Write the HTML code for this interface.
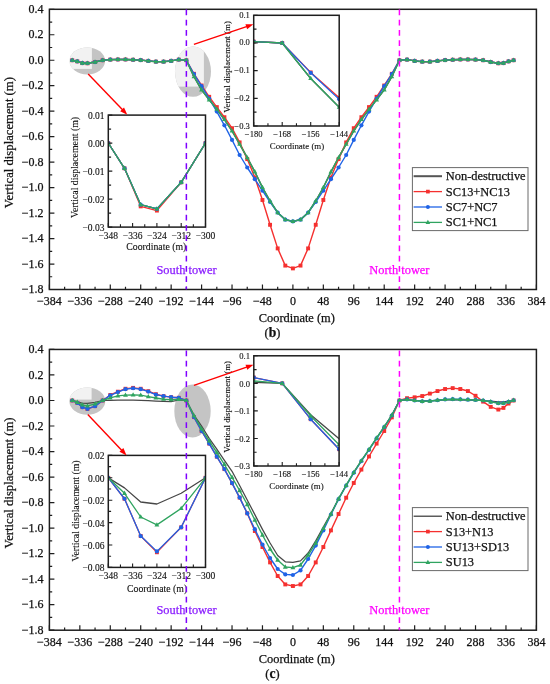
<!DOCTYPE html>
<html><head><meta charset="utf-8"><title>Vertical displacement</title>
<style>html,body{margin:0;padding:0;background:#fff;}svg{display:block;}</style></head>
<body>
<svg width="550" height="684" viewBox="0 0 550 684" font-family='"Liberation Serif", "Times New Roman", serif'>
<style>text{stroke-width:0.25px;paint-order:stroke;} text[font-size^="8"],text[font-size^="9"]{stroke-width:0.12px;}</style>
<rect width="550" height="684" fill="#fff"/>
<clipPath id="e1"><ellipse cx="87.3" cy="60.9" rx="17.7" ry="13.5"/></clipPath>
<ellipse cx="87.3" cy="60.9" rx="17.7" ry="13.5" fill="#c4c4c4"/>
<rect x="68.6" y="46.4" width="23.3" height="22.5" fill="#f2f2f2" clip-path="url(#e1)"/>
<clipPath id="e2"><ellipse cx="193" cy="71.6" rx="18" ry="25.2"/></clipPath>
<ellipse cx="193" cy="71.6" rx="18" ry="25.2" fill="#c4c4c4"/>
<rect x="174" y="45.4" width="29.9" height="41.2" fill="#f2f2f2" clip-path="url(#e2)"/>
<polyline points="72.23,60.25 77.3,61.39 82.37,63.05 87.45,63.24 95.06,62.03 102.67,60.25 110.28,59.61 117.88,59.48 125.49,59.48 133.1,59.74 140.71,60.12 148.32,60.88 155.93,61.65 163.54,61.65 171.15,60.88 178.76,59.61 186.37,60.25 193.98,76.6 201.59,89.8 209.2,99.8 216.81,109.2 224.42,119.5 232.03,130.9 239.63,144.1 247.24,157.7 254.85,171.8 262.46,187.5 270.07,201 277.68,212.7 285.29,219.6 292.9,221.4 300.51,219.6 308.12,212.7 315.73,201 323.34,187.5 330.95,171.8 338.56,157.7 346.17,144.1 353.77,130.9 361.38,119.5 368.99,109.2 376.6,99.8 384.21,89.8 391.82,76.6 399.43,60.25 407.04,59.61 414.65,60.88 422.26,61.65 429.87,61.65 437.48,60.88 445.09,60.12 452.7,59.74 460.31,59.48 467.92,59.48 475.52,59.61 483.13,60.25 490.74,62.03 498.35,63.24 503.43,63.05 508.5,61.39 513.57,60.25" fill="none" stroke="#474747" stroke-width="1.5" stroke-linejoin="round"/>
<polyline points="72.23,60.25 77.3,61.39 82.37,63.12 87.45,63.31 95.06,62.03 102.67,60.25 110.28,59.61 117.88,59.48 125.49,59.48 133.1,59.74 140.71,60.12 148.32,60.88 155.93,61.65 163.54,61.65 171.15,60.88 178.76,59.61 186.37,60.25 193.98,73.8 201.59,85.5 209.2,96.8 216.81,107.1 224.42,117.2 232.03,128.2 239.63,142.4 247.24,159.1 254.85,177.5 262.46,200 270.07,224.8 277.68,248.4 285.29,265.6 292.9,268.4 300.51,265.6 308.12,248.4 315.73,224.8 323.34,200 330.95,177.5 338.56,159.1 346.17,142.4 353.77,128.2 361.38,117.2 368.99,107.1 376.6,96.8 384.21,85.5 391.82,73.8 399.43,60.25 407.04,59.61 414.65,60.88 422.26,61.65 429.87,61.65 437.48,60.88 445.09,60.12 452.7,59.74 460.31,59.48 467.92,59.48 475.52,59.61 483.13,60.25 490.74,62.03 498.35,63.31 503.43,63.12 508.5,61.39 513.57,60.25" fill="none" stroke="#f5302f" stroke-width="1.4" stroke-linejoin="round"/>
<rect x="70.28" y="58.3" width="3.9" height="3.9" fill="#f5302f"/><rect x="75.35" y="59.44" width="3.9" height="3.9" fill="#f5302f"/><rect x="80.42" y="61.17" width="3.9" height="3.9" fill="#f5302f"/><rect x="85.5" y="61.36" width="3.9" height="3.9" fill="#f5302f"/><rect x="93.11" y="60.08" width="3.9" height="3.9" fill="#f5302f"/><rect x="100.72" y="58.3" width="3.9" height="3.9" fill="#f5302f"/><rect x="108.33" y="57.66" width="3.9" height="3.9" fill="#f5302f"/><rect x="115.93" y="57.53" width="3.9" height="3.9" fill="#f5302f"/><rect x="123.54" y="57.53" width="3.9" height="3.9" fill="#f5302f"/><rect x="131.15" y="57.79" width="3.9" height="3.9" fill="#f5302f"/><rect x="138.76" y="58.17" width="3.9" height="3.9" fill="#f5302f"/><rect x="146.37" y="58.93" width="3.9" height="3.9" fill="#f5302f"/><rect x="153.98" y="59.7" width="3.9" height="3.9" fill="#f5302f"/><rect x="161.59" y="59.7" width="3.9" height="3.9" fill="#f5302f"/><rect x="169.2" y="58.93" width="3.9" height="3.9" fill="#f5302f"/><rect x="176.81" y="57.66" width="3.9" height="3.9" fill="#f5302f"/><rect x="184.42" y="58.3" width="3.9" height="3.9" fill="#f5302f"/><rect x="192.03" y="71.85" width="3.9" height="3.9" fill="#f5302f"/><rect x="199.64" y="83.55" width="3.9" height="3.9" fill="#f5302f"/><rect x="207.25" y="94.85" width="3.9" height="3.9" fill="#f5302f"/><rect x="214.86" y="105.15" width="3.9" height="3.9" fill="#f5302f"/><rect x="222.47" y="115.25" width="3.9" height="3.9" fill="#f5302f"/><rect x="230.08" y="126.25" width="3.9" height="3.9" fill="#f5302f"/><rect x="237.68" y="140.45" width="3.9" height="3.9" fill="#f5302f"/><rect x="245.29" y="157.15" width="3.9" height="3.9" fill="#f5302f"/><rect x="252.9" y="175.55" width="3.9" height="3.9" fill="#f5302f"/><rect x="260.51" y="198.05" width="3.9" height="3.9" fill="#f5302f"/><rect x="268.12" y="222.85" width="3.9" height="3.9" fill="#f5302f"/><rect x="275.73" y="246.45" width="3.9" height="3.9" fill="#f5302f"/><rect x="283.34" y="263.65" width="3.9" height="3.9" fill="#f5302f"/><rect x="290.95" y="266.45" width="3.9" height="3.9" fill="#f5302f"/><rect x="298.56" y="263.65" width="3.9" height="3.9" fill="#f5302f"/><rect x="306.17" y="246.45" width="3.9" height="3.9" fill="#f5302f"/><rect x="313.78" y="222.85" width="3.9" height="3.9" fill="#f5302f"/><rect x="321.39" y="198.05" width="3.9" height="3.9" fill="#f5302f"/><rect x="329" y="175.55" width="3.9" height="3.9" fill="#f5302f"/><rect x="336.61" y="157.15" width="3.9" height="3.9" fill="#f5302f"/><rect x="344.22" y="140.45" width="3.9" height="3.9" fill="#f5302f"/><rect x="351.82" y="126.25" width="3.9" height="3.9" fill="#f5302f"/><rect x="359.43" y="115.25" width="3.9" height="3.9" fill="#f5302f"/><rect x="367.04" y="105.15" width="3.9" height="3.9" fill="#f5302f"/><rect x="374.65" y="94.85" width="3.9" height="3.9" fill="#f5302f"/><rect x="382.26" y="83.55" width="3.9" height="3.9" fill="#f5302f"/><rect x="389.87" y="71.85" width="3.9" height="3.9" fill="#f5302f"/><rect x="397.48" y="58.3" width="3.9" height="3.9" fill="#f5302f"/><rect x="405.09" y="57.66" width="3.9" height="3.9" fill="#f5302f"/><rect x="412.7" y="58.93" width="3.9" height="3.9" fill="#f5302f"/><rect x="420.31" y="59.7" width="3.9" height="3.9" fill="#f5302f"/><rect x="427.92" y="59.7" width="3.9" height="3.9" fill="#f5302f"/><rect x="435.53" y="58.93" width="3.9" height="3.9" fill="#f5302f"/><rect x="443.14" y="58.17" width="3.9" height="3.9" fill="#f5302f"/><rect x="450.75" y="57.79" width="3.9" height="3.9" fill="#f5302f"/><rect x="458.36" y="57.53" width="3.9" height="3.9" fill="#f5302f"/><rect x="465.97" y="57.53" width="3.9" height="3.9" fill="#f5302f"/><rect x="473.57" y="57.66" width="3.9" height="3.9" fill="#f5302f"/><rect x="481.18" y="58.3" width="3.9" height="3.9" fill="#f5302f"/><rect x="488.79" y="60.08" width="3.9" height="3.9" fill="#f5302f"/><rect x="496.4" y="61.36" width="3.9" height="3.9" fill="#f5302f"/><rect x="501.48" y="61.17" width="3.9" height="3.9" fill="#f5302f"/><rect x="506.55" y="59.44" width="3.9" height="3.9" fill="#f5302f"/><rect x="511.62" y="58.3" width="3.9" height="3.9" fill="#f5302f"/>
<polyline points="72.23,60.25 77.3,61.39 82.37,63.05 87.45,63.24 95.06,62.03 102.67,60.25 110.28,59.61 117.88,59.48 125.49,59.48 133.1,59.74 140.71,60.12 148.32,60.88 155.93,61.65 163.54,61.65 171.15,60.88 178.76,59.61 186.37,60.25 193.98,74 201.59,86.2 209.2,98.5 216.81,111.6 224.42,125.3 232.03,139.9 239.63,155 247.24,167.5 254.85,179.2 262.46,190.7 270.07,202 277.68,212.6 285.29,219.7 292.9,221.4 300.51,219.7 308.12,212.6 315.73,202 323.34,190.7 330.95,179.2 338.56,167.5 346.17,155 353.77,139.9 361.38,125.3 368.99,111.6 376.6,98.5 384.21,86.2 391.82,74 399.43,60.25 407.04,59.61 414.65,60.88 422.26,61.65 429.87,61.65 437.48,60.88 445.09,60.12 452.7,59.74 460.31,59.48 467.92,59.48 475.52,59.61 483.13,60.25 490.74,62.03 498.35,63.24 503.43,63.05 508.5,61.39 513.57,60.25" fill="none" stroke="#1f63e6" stroke-width="1.4" stroke-linejoin="round"/>
<circle cx="72.23" cy="60.25" r="2.1" fill="#1f63e6"/><circle cx="77.3" cy="61.39" r="2.1" fill="#1f63e6"/><circle cx="82.37" cy="63.05" r="2.1" fill="#1f63e6"/><circle cx="87.45" cy="63.24" r="2.1" fill="#1f63e6"/><circle cx="95.06" cy="62.03" r="2.1" fill="#1f63e6"/><circle cx="102.67" cy="60.25" r="2.1" fill="#1f63e6"/><circle cx="110.28" cy="59.61" r="2.1" fill="#1f63e6"/><circle cx="117.88" cy="59.48" r="2.1" fill="#1f63e6"/><circle cx="125.49" cy="59.48" r="2.1" fill="#1f63e6"/><circle cx="133.1" cy="59.74" r="2.1" fill="#1f63e6"/><circle cx="140.71" cy="60.12" r="2.1" fill="#1f63e6"/><circle cx="148.32" cy="60.88" r="2.1" fill="#1f63e6"/><circle cx="155.93" cy="61.65" r="2.1" fill="#1f63e6"/><circle cx="163.54" cy="61.65" r="2.1" fill="#1f63e6"/><circle cx="171.15" cy="60.88" r="2.1" fill="#1f63e6"/><circle cx="178.76" cy="59.61" r="2.1" fill="#1f63e6"/><circle cx="186.37" cy="60.25" r="2.1" fill="#1f63e6"/><circle cx="193.98" cy="74" r="2.1" fill="#1f63e6"/><circle cx="201.59" cy="86.2" r="2.1" fill="#1f63e6"/><circle cx="209.2" cy="98.5" r="2.1" fill="#1f63e6"/><circle cx="216.81" cy="111.6" r="2.1" fill="#1f63e6"/><circle cx="224.42" cy="125.3" r="2.1" fill="#1f63e6"/><circle cx="232.03" cy="139.9" r="2.1" fill="#1f63e6"/><circle cx="239.63" cy="155" r="2.1" fill="#1f63e6"/><circle cx="247.24" cy="167.5" r="2.1" fill="#1f63e6"/><circle cx="254.85" cy="179.2" r="2.1" fill="#1f63e6"/><circle cx="262.46" cy="190.7" r="2.1" fill="#1f63e6"/><circle cx="270.07" cy="202" r="2.1" fill="#1f63e6"/><circle cx="277.68" cy="212.6" r="2.1" fill="#1f63e6"/><circle cx="285.29" cy="219.7" r="2.1" fill="#1f63e6"/><circle cx="292.9" cy="221.4" r="2.1" fill="#1f63e6"/><circle cx="300.51" cy="219.7" r="2.1" fill="#1f63e6"/><circle cx="308.12" cy="212.6" r="2.1" fill="#1f63e6"/><circle cx="315.73" cy="202" r="2.1" fill="#1f63e6"/><circle cx="323.34" cy="190.7" r="2.1" fill="#1f63e6"/><circle cx="330.95" cy="179.2" r="2.1" fill="#1f63e6"/><circle cx="338.56" cy="167.5" r="2.1" fill="#1f63e6"/><circle cx="346.17" cy="155" r="2.1" fill="#1f63e6"/><circle cx="353.77" cy="139.9" r="2.1" fill="#1f63e6"/><circle cx="361.38" cy="125.3" r="2.1" fill="#1f63e6"/><circle cx="368.99" cy="111.6" r="2.1" fill="#1f63e6"/><circle cx="376.6" cy="98.5" r="2.1" fill="#1f63e6"/><circle cx="384.21" cy="86.2" r="2.1" fill="#1f63e6"/><circle cx="391.82" cy="74" r="2.1" fill="#1f63e6"/><circle cx="399.43" cy="60.25" r="2.1" fill="#1f63e6"/><circle cx="407.04" cy="59.61" r="2.1" fill="#1f63e6"/><circle cx="414.65" cy="60.88" r="2.1" fill="#1f63e6"/><circle cx="422.26" cy="61.65" r="2.1" fill="#1f63e6"/><circle cx="429.87" cy="61.65" r="2.1" fill="#1f63e6"/><circle cx="437.48" cy="60.88" r="2.1" fill="#1f63e6"/><circle cx="445.09" cy="60.12" r="2.1" fill="#1f63e6"/><circle cx="452.7" cy="59.74" r="2.1" fill="#1f63e6"/><circle cx="460.31" cy="59.48" r="2.1" fill="#1f63e6"/><circle cx="467.92" cy="59.48" r="2.1" fill="#1f63e6"/><circle cx="475.52" cy="59.61" r="2.1" fill="#1f63e6"/><circle cx="483.13" cy="60.25" r="2.1" fill="#1f63e6"/><circle cx="490.74" cy="62.03" r="2.1" fill="#1f63e6"/><circle cx="498.35" cy="63.24" r="2.1" fill="#1f63e6"/><circle cx="503.43" cy="63.05" r="2.1" fill="#1f63e6"/><circle cx="508.5" cy="61.39" r="2.1" fill="#1f63e6"/><circle cx="513.57" cy="60.25" r="2.1" fill="#1f63e6"/>
<polyline points="72.23,60.25 77.3,61.39 82.37,63.05 87.45,63.24 95.06,62.03 102.67,60.25 110.28,59.61 117.88,59.48 125.49,59.48 133.1,59.74 140.71,60.12 148.32,60.88 155.93,61.65 163.54,61.65 171.15,60.88 178.76,59.61 186.37,60.25 193.98,76.6 201.59,89.8 209.2,99.8 216.81,109.2 224.42,119.5 232.03,130.9 239.63,144.1 247.24,157.7 254.85,171.8 262.46,187.5 270.07,201 277.68,212.7 285.29,219.6 292.9,221.4 300.51,219.6 308.12,212.7 315.73,201 323.34,187.5 330.95,171.8 338.56,157.7 346.17,144.1 353.77,130.9 361.38,119.5 368.99,109.2 376.6,99.8 384.21,89.8 391.82,76.6 399.43,60.25 407.04,59.61 414.65,60.88 422.26,61.65 429.87,61.65 437.48,60.88 445.09,60.12 452.7,59.74 460.31,59.48 467.92,59.48 475.52,59.61 483.13,60.25 490.74,62.03 498.35,63.24 503.43,63.05 508.5,61.39 513.57,60.25" fill="none" stroke="#30a460" stroke-width="1.4" stroke-linejoin="round"/>
<path d="M72.23 57.55L74.66 61.87L69.8 61.87Z" fill="#30a460"/><path d="M77.3 58.69L79.73 63.01L74.87 63.01Z" fill="#30a460"/><path d="M82.37 60.35L84.8 64.67L79.94 64.67Z" fill="#30a460"/><path d="M87.45 60.54L89.88 64.86L85.02 64.86Z" fill="#30a460"/><path d="M95.06 59.33L97.49 63.65L92.63 63.65Z" fill="#30a460"/><path d="M102.67 57.55L105.1 61.87L100.24 61.87Z" fill="#30a460"/><path d="M110.28 56.91L112.71 61.23L107.84 61.23Z" fill="#30a460"/><path d="M117.88 56.78L120.31 61.1L115.45 61.1Z" fill="#30a460"/><path d="M125.49 56.78L127.92 61.1L123.06 61.1Z" fill="#30a460"/><path d="M133.1 57.04L135.53 61.36L130.67 61.36Z" fill="#30a460"/><path d="M140.71 57.42L143.14 61.74L138.28 61.74Z" fill="#30a460"/><path d="M148.32 58.18L150.75 62.5L145.89 62.5Z" fill="#30a460"/><path d="M155.93 58.95L158.36 63.27L153.5 63.27Z" fill="#30a460"/><path d="M163.54 58.95L165.97 63.27L161.11 63.27Z" fill="#30a460"/><path d="M171.15 58.18L173.58 62.5L168.72 62.5Z" fill="#30a460"/><path d="M178.76 56.91L181.19 61.23L176.33 61.23Z" fill="#30a460"/><path d="M186.37 57.55L188.8 61.87L183.94 61.87Z" fill="#30a460"/><path d="M193.98 73.9L196.41 78.22L191.55 78.22Z" fill="#30a460"/><path d="M201.59 87.1L204.02 91.42L199.16 91.42Z" fill="#30a460"/><path d="M209.2 97.1L211.63 101.42L206.77 101.42Z" fill="#30a460"/><path d="M216.81 106.5L219.24 110.82L214.38 110.82Z" fill="#30a460"/><path d="M224.42 116.8L226.85 121.12L221.99 121.12Z" fill="#30a460"/><path d="M232.03 128.2L234.46 132.52L229.59 132.52Z" fill="#30a460"/><path d="M239.63 141.4L242.06 145.72L237.2 145.72Z" fill="#30a460"/><path d="M247.24 155L249.67 159.32L244.81 159.32Z" fill="#30a460"/><path d="M254.85 169.1L257.28 173.42L252.42 173.42Z" fill="#30a460"/><path d="M262.46 184.8L264.89 189.12L260.03 189.12Z" fill="#30a460"/><path d="M270.07 198.3L272.5 202.62L267.64 202.62Z" fill="#30a460"/><path d="M277.68 210L280.11 214.32L275.25 214.32Z" fill="#30a460"/><path d="M285.29 216.9L287.72 221.22L282.86 221.22Z" fill="#30a460"/><path d="M292.9 218.7L295.33 223.02L290.47 223.02Z" fill="#30a460"/><path d="M300.51 216.9L302.94 221.22L298.08 221.22Z" fill="#30a460"/><path d="M308.12 210L310.55 214.32L305.69 214.32Z" fill="#30a460"/><path d="M315.73 198.3L318.16 202.62L313.3 202.62Z" fill="#30a460"/><path d="M323.34 184.8L325.77 189.12L320.91 189.12Z" fill="#30a460"/><path d="M330.95 169.1L333.38 173.42L328.52 173.42Z" fill="#30a460"/><path d="M338.56 155L340.99 159.32L336.13 159.32Z" fill="#30a460"/><path d="M346.17 141.4L348.6 145.72L343.74 145.72Z" fill="#30a460"/><path d="M353.77 128.2L356.2 132.52L351.34 132.52Z" fill="#30a460"/><path d="M361.38 116.8L363.81 121.12L358.95 121.12Z" fill="#30a460"/><path d="M368.99 106.5L371.42 110.82L366.56 110.82Z" fill="#30a460"/><path d="M376.6 97.1L379.03 101.42L374.17 101.42Z" fill="#30a460"/><path d="M384.21 87.1L386.64 91.42L381.78 91.42Z" fill="#30a460"/><path d="M391.82 73.9L394.25 78.22L389.39 78.22Z" fill="#30a460"/><path d="M399.43 57.55L401.86 61.87L397 61.87Z" fill="#30a460"/><path d="M407.04 56.91L409.47 61.23L404.61 61.23Z" fill="#30a460"/><path d="M414.65 58.18L417.08 62.5L412.22 62.5Z" fill="#30a460"/><path d="M422.26 58.95L424.69 63.27L419.83 63.27Z" fill="#30a460"/><path d="M429.87 58.95L432.3 63.27L427.44 63.27Z" fill="#30a460"/><path d="M437.48 58.18L439.91 62.5L435.05 62.5Z" fill="#30a460"/><path d="M445.09 57.42L447.52 61.74L442.66 61.74Z" fill="#30a460"/><path d="M452.7 57.04L455.13 61.36L450.27 61.36Z" fill="#30a460"/><path d="M460.31 56.78L462.74 61.1L457.88 61.1Z" fill="#30a460"/><path d="M467.92 56.78L470.35 61.1L465.49 61.1Z" fill="#30a460"/><path d="M475.52 56.91L477.95 61.23L473.09 61.23Z" fill="#30a460"/><path d="M483.13 57.55L485.56 61.87L480.7 61.87Z" fill="#30a460"/><path d="M490.74 59.33L493.17 63.65L488.31 63.65Z" fill="#30a460"/><path d="M498.35 60.54L500.78 64.86L495.92 64.86Z" fill="#30a460"/><path d="M503.43 60.35L505.86 64.67L501 64.67Z" fill="#30a460"/><path d="M508.5 58.69L510.93 63.01L506.07 63.01Z" fill="#30a460"/><path d="M513.57 57.55L516 61.87L511.14 61.87Z" fill="#30a460"/>
<path d="M49.4 289.5V284.5M64.62 289.5V286.7M79.84 289.5V284.5M95.06 289.5V286.7M110.28 289.5V284.5M125.49 289.5V286.7M140.71 289.5V284.5M155.93 289.5V286.7M171.15 289.5V284.5M186.37 289.5V286.7M201.59 289.5V284.5M216.81 289.5V286.7M232.03 289.5V284.5M247.24 289.5V286.7M262.46 289.5V284.5M277.68 289.5V286.7M292.9 289.5V284.5M308.12 289.5V286.7M323.34 289.5V284.5M338.56 289.5V286.7M353.77 289.5V284.5M368.99 289.5V286.7M384.21 289.5V284.5M399.43 289.5V286.7M414.65 289.5V284.5M429.87 289.5V286.7M445.09 289.5V284.5M460.31 289.5V286.7M475.52 289.5V284.5M490.74 289.5V286.7M505.96 289.5V284.5M521.18 289.5V286.7M536.4 289.5V284.5M49.4 289.5H54.4M49.4 276.76H52.2M49.4 264.03H54.4M49.4 251.29H52.2M49.4 238.55H54.4M49.4 225.82H52.2M49.4 213.08H54.4M49.4 200.35H52.2M49.4 187.61H54.4M49.4 174.87H52.2M49.4 162.14H54.4M49.4 149.4H52.2M49.4 136.66H54.4M49.4 123.93H52.2M49.4 111.19H54.4M49.4 98.45H52.2M49.4 85.72H54.4M49.4 72.98H52.2M49.4 60.25H54.4M49.4 47.51H52.2M49.4 34.77H54.4M49.4 22.04H52.2M49.4 9.3H54.4" stroke="#1e1e1e" stroke-width="1.2" fill="none"/>
<rect x="49.4" y="9.3" width="487" height="280.2" fill="none" stroke="#1e1e1e" stroke-width="1.5"/>
<text x="49.4" y="305" font-size="12" text-anchor="middle" fill="#111" stroke="#111" >&#8722;384</text>
<text x="79.84" y="305" font-size="12" text-anchor="middle" fill="#111" stroke="#111" >&#8722;336</text>
<text x="110.28" y="305" font-size="12" text-anchor="middle" fill="#111" stroke="#111" >&#8722;288</text>
<text x="140.71" y="305" font-size="12" text-anchor="middle" fill="#111" stroke="#111" >&#8722;240</text>
<text x="171.15" y="305" font-size="12" text-anchor="middle" fill="#111" stroke="#111" >&#8722;192</text>
<text x="201.59" y="305" font-size="12" text-anchor="middle" fill="#111" stroke="#111" >&#8722;144</text>
<text x="232.03" y="305" font-size="12" text-anchor="middle" fill="#111" stroke="#111" >&#8722;96</text>
<text x="262.46" y="305" font-size="12" text-anchor="middle" fill="#111" stroke="#111" >&#8722;48</text>
<text x="292.9" y="305" font-size="12" text-anchor="middle" fill="#111" stroke="#111" >0</text>
<text x="323.34" y="305" font-size="12" text-anchor="middle" fill="#111" stroke="#111" >48</text>
<text x="353.77" y="305" font-size="12" text-anchor="middle" fill="#111" stroke="#111" >96</text>
<text x="384.21" y="305" font-size="12" text-anchor="middle" fill="#111" stroke="#111" >144</text>
<text x="414.65" y="305" font-size="12" text-anchor="middle" fill="#111" stroke="#111" >192</text>
<text x="445.09" y="305" font-size="12" text-anchor="middle" fill="#111" stroke="#111" >240</text>
<text x="475.52" y="305" font-size="12" text-anchor="middle" fill="#111" stroke="#111" >288</text>
<text x="505.96" y="305" font-size="12" text-anchor="middle" fill="#111" stroke="#111" >336</text>
<text x="536.4" y="305" font-size="12" text-anchor="middle" fill="#111" stroke="#111" >384</text>
<text x="43.6" y="293.2" font-size="12" text-anchor="end" fill="#111" stroke="#111" >&#8722;1.8</text>
<text x="43.6" y="267.73" font-size="12" text-anchor="end" fill="#111" stroke="#111" >&#8722;1.6</text>
<text x="43.6" y="242.25" font-size="12" text-anchor="end" fill="#111" stroke="#111" >&#8722;1.4</text>
<text x="43.6" y="216.78" font-size="12" text-anchor="end" fill="#111" stroke="#111" >&#8722;1.2</text>
<text x="43.6" y="191.31" font-size="12" text-anchor="end" fill="#111" stroke="#111" >&#8722;1.0</text>
<text x="43.6" y="165.84" font-size="12" text-anchor="end" fill="#111" stroke="#111" >&#8722;0.8</text>
<text x="43.6" y="140.36" font-size="12" text-anchor="end" fill="#111" stroke="#111" >&#8722;0.6</text>
<text x="43.6" y="114.89" font-size="12" text-anchor="end" fill="#111" stroke="#111" >&#8722;0.4</text>
<text x="43.6" y="89.42" font-size="12" text-anchor="end" fill="#111" stroke="#111" >&#8722;0.2</text>
<text x="43.6" y="63.95" font-size="12" text-anchor="end" fill="#111" stroke="#111" >0.0</text>
<text x="43.6" y="38.47" font-size="12" text-anchor="end" fill="#111" stroke="#111" >0.2</text>
<text x="43.6" y="13" font-size="12" text-anchor="end" fill="#111" stroke="#111" >0.4</text>
<text x="296.8" y="322" font-size="12.4" text-anchor="middle" fill="#111" stroke="#111" >Coordinate (m)</text>
<text x="272.5" y="337" font-size="12.4" text-anchor="middle" fill="#111" stroke="#111">(<tspan font-weight="bold" font-size="13.6">b</tspan>)</text>
<text transform="translate(12.7 142.6) rotate(-90)" font-size="12.7" text-anchor="middle" fill="#111" stroke="#111">Vertical displacement (m)</text>
<rect x="108.3" y="115.1" width="97.2" height="112" fill="#fff"/>
<clipPath id="cbl"><rect x="108.3" y="115.1" width="97.2" height="112"/></clipPath>
<g clip-path="url(#cbl)">
<polyline points="108.3,143.1 124.5,168.3 140.7,204.7 156.9,208.9 181.2,182.3 205.5,143.1 229.8,129.1" fill="none" stroke="#474747" stroke-width="1.3" stroke-linejoin="round"/>
<polyline points="108.3,143.1 124.5,168.3 140.7,206.38 156.9,210.58 181.2,182.3 205.5,143.1 229.8,129.1" fill="none" stroke="#f5302f" stroke-width="1.3" stroke-linejoin="round"/>
<rect x="106.35" y="141.15" width="3.9" height="3.9" fill="#f5302f"/><rect x="122.55" y="166.35" width="3.9" height="3.9" fill="#f5302f"/><rect x="138.75" y="204.43" width="3.9" height="3.9" fill="#f5302f"/><rect x="154.95" y="208.63" width="3.9" height="3.9" fill="#f5302f"/><rect x="179.25" y="180.35" width="3.9" height="3.9" fill="#f5302f"/><rect x="203.55" y="141.15" width="3.9" height="3.9" fill="#f5302f"/><rect x="227.85" y="127.15" width="3.9" height="3.9" fill="#f5302f"/>
<polyline points="108.3,143.1 124.5,168.3 140.7,204.7 156.9,208.9 181.2,182.3 205.5,143.1 229.8,129.1" fill="none" stroke="#1f63e6" stroke-width="1.3" stroke-linejoin="round"/>
<circle cx="108.3" cy="143.1" r="2.1" fill="#1f63e6"/><circle cx="124.5" cy="168.3" r="2.1" fill="#1f63e6"/><circle cx="140.7" cy="204.7" r="2.1" fill="#1f63e6"/><circle cx="156.9" cy="208.9" r="2.1" fill="#1f63e6"/><circle cx="181.2" cy="182.3" r="2.1" fill="#1f63e6"/><circle cx="205.5" cy="143.1" r="2.1" fill="#1f63e6"/><circle cx="229.8" cy="129.1" r="2.1" fill="#1f63e6"/>
<polyline points="108.3,143.1 124.5,168.3 140.7,204.7 156.9,208.9 181.2,182.3 205.5,143.1 229.8,129.1" fill="none" stroke="#30a460" stroke-width="1.3" stroke-linejoin="round"/>
<path d="M108.3 140.4L110.73 144.72L105.87 144.72Z" fill="#30a460"/><path d="M124.5 165.6L126.93 169.92L122.07 169.92Z" fill="#30a460"/><path d="M140.7 202L143.13 206.32L138.27 206.32Z" fill="#30a460"/><path d="M156.9 206.2L159.33 210.52L154.47 210.52Z" fill="#30a460"/><path d="M181.2 179.6L183.63 183.92L178.77 183.92Z" fill="#30a460"/><path d="M205.5 140.4L207.93 144.72L203.07 144.72Z" fill="#30a460"/><path d="M229.8 126.4L232.23 130.72L227.37 130.72Z" fill="#30a460"/>
</g>
<path d="M108.3 227.1V223.1M120.45 227.1V224.3M132.6 227.1V223.1M144.75 227.1V224.3M156.9 227.1V223.1M169.05 227.1V224.3M181.2 227.1V223.1M193.35 227.1V224.3M205.5 227.1V223.1M108.3 227.1H112.3M108.3 213.1H111.1M108.3 199.1H112.3M108.3 185.1H111.1M108.3 171.1H112.3M108.3 157.1H111.1M108.3 143.1H112.3M108.3 129.1H111.1M108.3 115.1H112.3" stroke="#1e1e1e" stroke-width="1.1" fill="none"/>
<rect x="108.3" y="115.1" width="97.2" height="112" fill="none" stroke="#1e1e1e" stroke-width="1.5"/>
<text x="108.3" y="238.9" font-size="9.5" text-anchor="middle" fill="#111" stroke="#111" >&#8722;348</text>
<text x="132.6" y="238.9" font-size="9.5" text-anchor="middle" fill="#111" stroke="#111" >&#8722;336</text>
<text x="156.9" y="238.9" font-size="9.5" text-anchor="middle" fill="#111" stroke="#111" >&#8722;324</text>
<text x="181.2" y="238.9" font-size="9.5" text-anchor="middle" fill="#111" stroke="#111" >&#8722;312</text>
<text x="205.5" y="238.9" font-size="9.5" text-anchor="middle" fill="#111" stroke="#111" >&#8722;300</text>
<text x="104.5" y="231.03" font-size="9.5" text-anchor="end" fill="#111" stroke="#111" >&#8722;0.03</text>
<text x="104.5" y="203.03" font-size="9.5" text-anchor="end" fill="#111" stroke="#111" >&#8722;0.02</text>
<text x="104.5" y="175.03" font-size="9.5" text-anchor="end" fill="#111" stroke="#111" >&#8722;0.01</text>
<text x="104.5" y="147.03" font-size="9.5" text-anchor="end" fill="#111" stroke="#111" >0.00</text>
<text x="104.5" y="119.02" font-size="9.5" text-anchor="end" fill="#111" stroke="#111" >0.01</text>
<text x="156.3" y="250.1" font-size="9.8" text-anchor="middle" fill="#111" stroke="#111" >Coordinate (m)</text>
<text transform="translate(78.2 167.5) rotate(-90)" font-size="9.8" text-anchor="middle" fill="#111" stroke="#111">Vertical displacement (m)</text>
<rect x="253.7" y="15.3" width="85.5" height="110.7" fill="#fff"/>
<clipPath id="cbr"><rect x="253.7" y="15.3" width="85.5" height="110.7"/></clipPath>
<g clip-path="url(#cbr)">
<polyline points="225.2,44.36 253.7,41.59 282.2,42.98 310.7,78.5 339.2,107.19 367.7,128.92" fill="none" stroke="#474747" stroke-width="1.3" stroke-linejoin="round"/>
<polyline points="225.2,44.36 253.7,41.59 282.2,42.98 310.7,72.42 339.2,97.84 367.7,122.4" fill="none" stroke="#f5302f" stroke-width="1.3" stroke-linejoin="round"/>
<rect x="223.25" y="42.41" width="3.9" height="3.9" fill="#f5302f"/><rect x="251.75" y="39.64" width="3.9" height="3.9" fill="#f5302f"/><rect x="280.25" y="41.03" width="3.9" height="3.9" fill="#f5302f"/><rect x="308.75" y="70.47" width="3.9" height="3.9" fill="#f5302f"/><rect x="337.25" y="95.89" width="3.9" height="3.9" fill="#f5302f"/><rect x="365.75" y="120.45" width="3.9" height="3.9" fill="#f5302f"/>
<polyline points="225.2,44.36 253.7,41.59 282.2,42.98 310.7,72.85 339.2,99.36 367.7,126.09" fill="none" stroke="#1f63e6" stroke-width="1.3" stroke-linejoin="round"/>
<circle cx="225.2" cy="44.36" r="2.1" fill="#1f63e6"/><circle cx="253.7" cy="41.59" r="2.1" fill="#1f63e6"/><circle cx="282.2" cy="42.98" r="2.1" fill="#1f63e6"/><circle cx="310.7" cy="72.85" r="2.1" fill="#1f63e6"/><circle cx="339.2" cy="99.36" r="2.1" fill="#1f63e6"/><circle cx="367.7" cy="126.09" r="2.1" fill="#1f63e6"/>
<polyline points="225.2,44.36 253.7,41.59 282.2,42.98 310.7,78.5 339.2,107.19 367.7,128.92" fill="none" stroke="#30a460" stroke-width="1.3" stroke-linejoin="round"/>
<path d="M225.2 41.66L227.63 45.98L222.77 45.98Z" fill="#30a460"/><path d="M253.7 38.89L256.13 43.21L251.27 43.21Z" fill="#30a460"/><path d="M282.2 40.28L284.63 44.6L279.77 44.6Z" fill="#30a460"/><path d="M310.7 75.8L313.13 80.12L308.27 80.12Z" fill="#30a460"/><path d="M339.2 104.49L341.63 108.81L336.77 108.81Z" fill="#30a460"/><path d="M367.7 126.22L370.13 130.54L365.27 130.54Z" fill="#30a460"/>
</g>
<path d="M253.7 126V122M267.95 126V123.2M282.2 126V122M296.45 126V123.2M310.7 126V122M324.95 126V123.2M339.2 126V122M253.7 126H257.7M253.7 112.16H256.5M253.7 98.33H257.7M253.7 84.49H256.5M253.7 70.65H257.7M253.7 56.81H256.5M253.7 42.97H257.7M253.7 29.14H256.5M253.7 15.3H257.7" stroke="#1e1e1e" stroke-width="1.1" fill="none"/>
<rect x="253.7" y="15.3" width="85.5" height="110.7" fill="none" stroke="#1e1e1e" stroke-width="1.5"/>
<text x="253.7" y="136.8" font-size="8.6" text-anchor="middle" fill="#111" stroke="#111" >&#8722;180</text>
<text x="282.2" y="136.8" font-size="8.6" text-anchor="middle" fill="#111" stroke="#111" >&#8722;168</text>
<text x="310.7" y="136.8" font-size="8.6" text-anchor="middle" fill="#111" stroke="#111" >&#8722;156</text>
<text x="339.2" y="136.8" font-size="8.6" text-anchor="middle" fill="#111" stroke="#111" >&#8722;144</text>
<text x="249.9" y="128.51" font-size="8.6" text-anchor="end" fill="#111" stroke="#111" >&#8722;0.3</text>
<text x="249.9" y="100.84" font-size="8.6" text-anchor="end" fill="#111" stroke="#111" >&#8722;0.2</text>
<text x="249.9" y="73.16" font-size="8.6" text-anchor="end" fill="#111" stroke="#111" >&#8722;0.1</text>
<text x="249.9" y="45.48" font-size="8.6" text-anchor="end" fill="#111" stroke="#111" >0.0</text>
<text x="249.9" y="17.81" font-size="8.6" text-anchor="end" fill="#111" stroke="#111" >0.1</text>
<text x="297" y="148.6" font-size="8.9" text-anchor="middle" fill="#111" stroke="#111" >Coordinate (m)</text>
<text transform="translate(229.8 67) rotate(-90)" font-size="8.9" text-anchor="middle" fill="#111" stroke="#111">Vertical displacement (m)</text>
<line x1="88.2" y1="74.1" x2="122.79" y2="110.02" stroke="#ff0000" stroke-width="1.4"/>
<path d="M127.3 114.7L120.15 111.17L124.04 107.42Z" fill="#ff0000"/>
<line x1="193.9" y1="44.3" x2="247.24" y2="26.37" stroke="#ff0000" stroke-width="1.4"/>
<path d="M253.4 24.3L247.15 29.25L245.43 24.13Z" fill="#ff0000"/>
<line x1="186.37" y1="9.44" x2="186.37" y2="289.5" stroke="#7f00ff" stroke-width="1.5" stroke-dasharray="5.8 4.46"/>
<line x1="399.43" y1="9.44" x2="399.43" y2="289.5" stroke="#ff00ff" stroke-width="1.5" stroke-dasharray="5.8 4.46"/>
<text x="186.6" y="273.5" font-size="12.4" text-anchor="middle" fill="#8a1cff" stroke="#8a1cff" >South tower</text>
<text x="399.4" y="273.5" font-size="12.4" text-anchor="middle" fill="#ff00ff" stroke="#ff00ff" >North tower</text>
<rect x="412.4" y="167.6" width="115.6" height="63" fill="#fff" stroke="#6a6a6a" stroke-width="1"/>
<line x1="413.6" y1="176.2" x2="442" y2="176.2" stroke="#555555" stroke-width="2.0"/>
<text x="445.8" y="180.1" font-size="12.4" text-anchor="start" fill="#111" stroke="#111" >Non-destructive</text>
<line x1="413.6" y1="191.6" x2="442" y2="191.6" stroke="#f5302f" stroke-width="1.3"/>
<rect x="426.05" y="189.75" width="3.7" height="3.7" fill="#f5302f"/>
<text x="445.8" y="195.5" font-size="12.4" text-anchor="start" fill="#111" stroke="#111" >SC13+NC13</text>
<line x1="413.6" y1="207" x2="442" y2="207" stroke="#1f63e6" stroke-width="1.3"/>
<circle cx="427.9" cy="207" r="1.99" fill="#1f63e6"/>
<text x="445.8" y="210.9" font-size="12.4" text-anchor="start" fill="#111" stroke="#111" >SC7+NC7</text>
<line x1="413.6" y1="222.4" x2="442" y2="222.4" stroke="#30a460" stroke-width="1.3"/>
<path d="M427.9 219.83L430.21 223.94L425.59 223.94Z" fill="#30a460"/>
<text x="445.8" y="226.3" font-size="12.4" text-anchor="start" fill="#111" stroke="#111" >SC1+NC1</text>
<clipPath id="e3"><ellipse cx="87.3" cy="401.1" rx="18" ry="13.6"/></clipPath>
<ellipse cx="87.3" cy="401.1" rx="18" ry="13.6" fill="#c4c4c4"/>
<rect x="68.3" y="386.5" width="23.3" height="13.1" fill="#f2f2f2" clip-path="url(#e3)"/>
<clipPath id="e4"><ellipse cx="192.5" cy="411.1" rx="18.2" ry="26.5"/></clipPath>
<ellipse cx="192.5" cy="411.1" rx="18.2" ry="26.5" fill="#c4c4c4"/>
<polyline points="72.23,400.5 77.3,401.64 82.37,403.25 87.45,403.48 95.06,402.26 102.67,400.5 110.28,400.37 117.88,400.24 125.49,400.24 133.1,400.24 140.71,400.37 148.32,400.62 155.93,401.01 163.54,401.39 171.15,401.64 178.76,399.99 186.37,400.5 193.98,415 201.59,426.2 209.2,438.4 216.81,449.1 224.42,460.3 232.03,471.3 239.63,485.5 247.24,500.01 254.85,514.61 262.46,529.41 270.07,543.01 277.68,555.51 285.29,561.81 292.9,562.31 300.51,560.91 308.12,553.01 315.73,540.91 323.34,527.11 330.95,513.41 338.56,498.81 346.17,485.3 353.77,472.4 361.38,460.7 368.99,449.5 376.6,438 384.21,426.8 391.82,415.1 399.43,400.5 407.04,399.97 414.65,400.5 422.26,400.89 429.87,400.76 437.48,400.36 445.09,399.97 452.7,399.84 460.31,399.97 467.92,400.1 475.52,400.23 483.13,400.5 490.74,401.15 498.35,401.81 503.43,401.81 508.5,401.15 513.57,400.36" fill="none" stroke="#474747" stroke-width="1.25" stroke-linejoin="round"/>
<polyline points="72.23,400.5 77.3,402.88 82.37,407.13 87.45,408.98 95.06,406.14 102.67,400.5 110.28,395.01 117.88,391.69 125.49,388.75 133.1,387.86 140.71,388.75 148.32,391.18 155.93,394.24 163.54,396.16 171.15,397.18 178.76,397.82 186.37,400.5 193.98,417.1 201.59,431 209.2,443.6 216.81,456.7 224.42,469.1 232.03,483.1 239.63,497.61 247.24,513.31 254.85,531.01 262.46,547.01 270.07,562.41 277.68,576.01 285.29,584.42 292.9,586.02 300.51,584.42 308.12,576.01 315.73,562.41 323.34,547.01 330.95,530.41 338.56,514.01 346.17,497.71 353.77,483 361.38,469.6 368.99,456.5 376.6,443.6 384.21,431 391.82,417.4 399.43,400.5 407.04,398.2 414.65,397.31 422.26,396.03 429.87,393.6 437.48,391.05 445.09,389.01 452.7,388.12 460.31,389.01 467.92,391.05 475.52,395.77 483.13,401.64 490.74,406.88 498.35,409.56 503.43,407.9 508.5,403.56 513.57,400.5" fill="none" stroke="#f5302f" stroke-width="1.4" stroke-linejoin="round"/>
<rect x="70.28" y="398.55" width="3.9" height="3.9" fill="#f5302f"/><rect x="75.35" y="400.93" width="3.9" height="3.9" fill="#f5302f"/><rect x="80.42" y="405.18" width="3.9" height="3.9" fill="#f5302f"/><rect x="85.5" y="407.03" width="3.9" height="3.9" fill="#f5302f"/><rect x="93.11" y="404.19" width="3.9" height="3.9" fill="#f5302f"/><rect x="100.72" y="398.55" width="3.9" height="3.9" fill="#f5302f"/><rect x="108.33" y="393.06" width="3.9" height="3.9" fill="#f5302f"/><rect x="115.93" y="389.74" width="3.9" height="3.9" fill="#f5302f"/><rect x="123.54" y="386.81" width="3.9" height="3.9" fill="#f5302f"/><rect x="131.15" y="385.91" width="3.9" height="3.9" fill="#f5302f"/><rect x="138.76" y="386.81" width="3.9" height="3.9" fill="#f5302f"/><rect x="146.37" y="389.23" width="3.9" height="3.9" fill="#f5302f"/><rect x="153.98" y="392.29" width="3.9" height="3.9" fill="#f5302f"/><rect x="161.59" y="394.21" width="3.9" height="3.9" fill="#f5302f"/><rect x="169.2" y="395.23" width="3.9" height="3.9" fill="#f5302f"/><rect x="176.81" y="395.87" width="3.9" height="3.9" fill="#f5302f"/><rect x="184.42" y="398.55" width="3.9" height="3.9" fill="#f5302f"/><rect x="192.03" y="415.15" width="3.9" height="3.9" fill="#f5302f"/><rect x="199.64" y="429.05" width="3.9" height="3.9" fill="#f5302f"/><rect x="207.25" y="441.65" width="3.9" height="3.9" fill="#f5302f"/><rect x="214.86" y="454.75" width="3.9" height="3.9" fill="#f5302f"/><rect x="222.47" y="467.15" width="3.9" height="3.9" fill="#f5302f"/><rect x="230.08" y="481.15" width="3.9" height="3.9" fill="#f5302f"/><rect x="237.68" y="495.66" width="3.9" height="3.9" fill="#f5302f"/><rect x="245.29" y="511.36" width="3.9" height="3.9" fill="#f5302f"/><rect x="252.9" y="529.06" width="3.9" height="3.9" fill="#f5302f"/><rect x="260.51" y="545.06" width="3.9" height="3.9" fill="#f5302f"/><rect x="268.12" y="560.46" width="3.9" height="3.9" fill="#f5302f"/><rect x="275.73" y="574.06" width="3.9" height="3.9" fill="#f5302f"/><rect x="283.34" y="582.47" width="3.9" height="3.9" fill="#f5302f"/><rect x="290.95" y="584.07" width="3.9" height="3.9" fill="#f5302f"/><rect x="298.56" y="582.47" width="3.9" height="3.9" fill="#f5302f"/><rect x="306.17" y="574.06" width="3.9" height="3.9" fill="#f5302f"/><rect x="313.78" y="560.46" width="3.9" height="3.9" fill="#f5302f"/><rect x="321.39" y="545.06" width="3.9" height="3.9" fill="#f5302f"/><rect x="329" y="528.46" width="3.9" height="3.9" fill="#f5302f"/><rect x="336.61" y="512.06" width="3.9" height="3.9" fill="#f5302f"/><rect x="344.22" y="495.76" width="3.9" height="3.9" fill="#f5302f"/><rect x="351.82" y="481.05" width="3.9" height="3.9" fill="#f5302f"/><rect x="359.43" y="467.65" width="3.9" height="3.9" fill="#f5302f"/><rect x="367.04" y="454.55" width="3.9" height="3.9" fill="#f5302f"/><rect x="374.65" y="441.65" width="3.9" height="3.9" fill="#f5302f"/><rect x="382.26" y="429.05" width="3.9" height="3.9" fill="#f5302f"/><rect x="389.87" y="415.45" width="3.9" height="3.9" fill="#f5302f"/><rect x="397.48" y="398.55" width="3.9" height="3.9" fill="#f5302f"/><rect x="405.09" y="396.25" width="3.9" height="3.9" fill="#f5302f"/><rect x="412.7" y="395.36" width="3.9" height="3.9" fill="#f5302f"/><rect x="420.31" y="394.08" width="3.9" height="3.9" fill="#f5302f"/><rect x="427.92" y="391.65" width="3.9" height="3.9" fill="#f5302f"/><rect x="435.53" y="389.1" width="3.9" height="3.9" fill="#f5302f"/><rect x="443.14" y="387.06" width="3.9" height="3.9" fill="#f5302f"/><rect x="450.75" y="386.17" width="3.9" height="3.9" fill="#f5302f"/><rect x="458.36" y="387.06" width="3.9" height="3.9" fill="#f5302f"/><rect x="465.97" y="389.1" width="3.9" height="3.9" fill="#f5302f"/><rect x="473.57" y="393.82" width="3.9" height="3.9" fill="#f5302f"/><rect x="481.18" y="399.69" width="3.9" height="3.9" fill="#f5302f"/><rect x="488.79" y="404.93" width="3.9" height="3.9" fill="#f5302f"/><rect x="496.4" y="407.61" width="3.9" height="3.9" fill="#f5302f"/><rect x="501.48" y="405.95" width="3.9" height="3.9" fill="#f5302f"/><rect x="506.55" y="401.61" width="3.9" height="3.9" fill="#f5302f"/><rect x="511.62" y="398.55" width="3.9" height="3.9" fill="#f5302f"/>
<polyline points="72.23,400.5 77.3,402.88 82.37,407.13 87.45,408.88 95.06,406.14 102.67,400.5 110.28,395.39 117.88,392.07 125.49,389.14 133.1,388.24 140.71,389.14 148.32,391.56 155.93,394.63 163.54,396.16 171.15,397.18 178.76,397.82 186.37,400.5 193.98,417.1 201.59,431 209.2,443.6 216.81,456.7 224.42,469.1 232.03,483.1 239.63,497.61 247.24,513.31 254.85,529.21 262.46,544.61 270.07,558.01 277.68,569.01 285.29,574.41 292.9,575.01 300.51,570.41 308.12,559.01 315.73,545.61 323.34,530.41 330.95,514.51 338.56,499.21 346.17,485.7 353.77,472.8 361.38,461.1 368.99,449.9 376.6,438.4 384.21,427.2 391.82,415.5 399.43,400.5 407.04,399.44 414.65,400.5 422.26,401.29 429.87,401.02 437.48,400.23 445.09,399.44 452.7,399.18 460.31,399.44 467.92,399.7 475.52,399.97 483.13,400.5 490.74,401.81 498.35,403.13 503.43,403.13 508.5,401.81 513.57,400.23" fill="none" stroke="#1f63e6" stroke-width="1.4" stroke-linejoin="round"/>
<circle cx="72.23" cy="400.5" r="2.1" fill="#1f63e6"/><circle cx="77.3" cy="402.88" r="2.1" fill="#1f63e6"/><circle cx="82.37" cy="407.13" r="2.1" fill="#1f63e6"/><circle cx="87.45" cy="408.88" r="2.1" fill="#1f63e6"/><circle cx="95.06" cy="406.14" r="2.1" fill="#1f63e6"/><circle cx="102.67" cy="400.5" r="2.1" fill="#1f63e6"/><circle cx="110.28" cy="395.39" r="2.1" fill="#1f63e6"/><circle cx="117.88" cy="392.07" r="2.1" fill="#1f63e6"/><circle cx="125.49" cy="389.14" r="2.1" fill="#1f63e6"/><circle cx="133.1" cy="388.24" r="2.1" fill="#1f63e6"/><circle cx="140.71" cy="389.14" r="2.1" fill="#1f63e6"/><circle cx="148.32" cy="391.56" r="2.1" fill="#1f63e6"/><circle cx="155.93" cy="394.63" r="2.1" fill="#1f63e6"/><circle cx="163.54" cy="396.16" r="2.1" fill="#1f63e6"/><circle cx="171.15" cy="397.18" r="2.1" fill="#1f63e6"/><circle cx="178.76" cy="397.82" r="2.1" fill="#1f63e6"/><circle cx="186.37" cy="400.5" r="2.1" fill="#1f63e6"/><circle cx="193.98" cy="417.1" r="2.1" fill="#1f63e6"/><circle cx="201.59" cy="431" r="2.1" fill="#1f63e6"/><circle cx="209.2" cy="443.6" r="2.1" fill="#1f63e6"/><circle cx="216.81" cy="456.7" r="2.1" fill="#1f63e6"/><circle cx="224.42" cy="469.1" r="2.1" fill="#1f63e6"/><circle cx="232.03" cy="483.1" r="2.1" fill="#1f63e6"/><circle cx="239.63" cy="497.61" r="2.1" fill="#1f63e6"/><circle cx="247.24" cy="513.31" r="2.1" fill="#1f63e6"/><circle cx="254.85" cy="529.21" r="2.1" fill="#1f63e6"/><circle cx="262.46" cy="544.61" r="2.1" fill="#1f63e6"/><circle cx="270.07" cy="558.01" r="2.1" fill="#1f63e6"/><circle cx="277.68" cy="569.01" r="2.1" fill="#1f63e6"/><circle cx="285.29" cy="574.41" r="2.1" fill="#1f63e6"/><circle cx="292.9" cy="575.01" r="2.1" fill="#1f63e6"/><circle cx="300.51" cy="570.41" r="2.1" fill="#1f63e6"/><circle cx="308.12" cy="559.01" r="2.1" fill="#1f63e6"/><circle cx="315.73" cy="545.61" r="2.1" fill="#1f63e6"/><circle cx="323.34" cy="530.41" r="2.1" fill="#1f63e6"/><circle cx="330.95" cy="514.51" r="2.1" fill="#1f63e6"/><circle cx="338.56" cy="499.21" r="2.1" fill="#1f63e6"/><circle cx="346.17" cy="485.7" r="2.1" fill="#1f63e6"/><circle cx="353.77" cy="472.8" r="2.1" fill="#1f63e6"/><circle cx="361.38" cy="461.1" r="2.1" fill="#1f63e6"/><circle cx="368.99" cy="449.9" r="2.1" fill="#1f63e6"/><circle cx="376.6" cy="438.4" r="2.1" fill="#1f63e6"/><circle cx="384.21" cy="427.2" r="2.1" fill="#1f63e6"/><circle cx="391.82" cy="415.5" r="2.1" fill="#1f63e6"/><circle cx="399.43" cy="400.5" r="2.1" fill="#1f63e6"/><circle cx="407.04" cy="399.44" r="2.1" fill="#1f63e6"/><circle cx="414.65" cy="400.5" r="2.1" fill="#1f63e6"/><circle cx="422.26" cy="401.29" r="2.1" fill="#1f63e6"/><circle cx="429.87" cy="401.02" r="2.1" fill="#1f63e6"/><circle cx="437.48" cy="400.23" r="2.1" fill="#1f63e6"/><circle cx="445.09" cy="399.44" r="2.1" fill="#1f63e6"/><circle cx="452.7" cy="399.18" r="2.1" fill="#1f63e6"/><circle cx="460.31" cy="399.44" r="2.1" fill="#1f63e6"/><circle cx="467.92" cy="399.7" r="2.1" fill="#1f63e6"/><circle cx="475.52" cy="399.97" r="2.1" fill="#1f63e6"/><circle cx="483.13" cy="400.5" r="2.1" fill="#1f63e6"/><circle cx="490.74" cy="401.81" r="2.1" fill="#1f63e6"/><circle cx="498.35" cy="403.13" r="2.1" fill="#1f63e6"/><circle cx="503.43" cy="403.13" r="2.1" fill="#1f63e6"/><circle cx="508.5" cy="401.81" r="2.1" fill="#1f63e6"/><circle cx="513.57" cy="400.23" r="2.1" fill="#1f63e6"/>
<polyline points="72.23,400.5 77.3,402.26 82.37,404.96 87.45,405.86 95.06,403.98 102.67,400.5 110.28,397.94 117.88,395.9 125.49,395.14 133.1,394.88 140.71,395.14 148.32,396.67 155.93,397.94 163.54,399.22 171.15,399.6 178.76,399.35 186.37,400.5 193.98,415.6 201.59,428.9 209.2,440.8 216.81,452.5 224.42,464.5 232.03,477.3 239.63,490.51 247.24,504.51 254.85,520.01 262.46,535.01 270.07,549.01 277.68,560.01 285.29,567.01 292.9,567.61 300.51,565.01 308.12,555.01 315.73,543.01 323.34,528.41 330.95,514.01 338.56,498.81 346.17,485.3 353.77,472.4 361.38,460.7 368.99,449.5 376.6,438 384.21,426.8 391.82,415.1 399.43,400.5 407.04,399.44 414.65,400.5 422.26,401.29 429.87,401.02 437.48,400.23 445.09,399.44 452.7,399.18 460.31,399.44 467.92,399.7 475.52,399.97 483.13,400.5 490.74,401.81 498.35,403.13 503.43,403.13 508.5,401.81 513.57,400.23" fill="none" stroke="#30a460" stroke-width="1.4" stroke-linejoin="round"/>
<path d="M72.23 397.8L74.66 402.12L69.8 402.12Z" fill="#30a460"/><path d="M77.3 399.56L79.73 403.88L74.87 403.88Z" fill="#30a460"/><path d="M82.37 402.26L84.8 406.58L79.94 406.58Z" fill="#30a460"/><path d="M87.45 403.16L89.88 407.48L85.02 407.48Z" fill="#30a460"/><path d="M95.06 401.28L97.49 405.6L92.63 405.6Z" fill="#30a460"/><path d="M102.67 397.8L105.1 402.12L100.24 402.12Z" fill="#30a460"/><path d="M110.28 395.24L112.71 399.56L107.84 399.56Z" fill="#30a460"/><path d="M117.88 393.2L120.31 397.52L115.45 397.52Z" fill="#30a460"/><path d="M125.49 392.44L127.92 396.76L123.06 396.76Z" fill="#30a460"/><path d="M133.1 392.18L135.53 396.5L130.67 396.5Z" fill="#30a460"/><path d="M140.71 392.44L143.14 396.76L138.28 396.76Z" fill="#30a460"/><path d="M148.32 393.97L150.75 398.29L145.89 398.29Z" fill="#30a460"/><path d="M155.93 395.24L158.36 399.56L153.5 399.56Z" fill="#30a460"/><path d="M163.54 396.52L165.97 400.84L161.11 400.84Z" fill="#30a460"/><path d="M171.15 396.9L173.58 401.22L168.72 401.22Z" fill="#30a460"/><path d="M178.76 396.65L181.19 400.97L176.33 400.97Z" fill="#30a460"/><path d="M186.37 397.8L188.8 402.12L183.94 402.12Z" fill="#30a460"/><path d="M193.98 412.9L196.41 417.22L191.55 417.22Z" fill="#30a460"/><path d="M201.59 426.2L204.02 430.52L199.16 430.52Z" fill="#30a460"/><path d="M209.2 438.1L211.63 442.42L206.77 442.42Z" fill="#30a460"/><path d="M216.81 449.8L219.24 454.12L214.38 454.12Z" fill="#30a460"/><path d="M224.42 461.8L226.85 466.12L221.99 466.12Z" fill="#30a460"/><path d="M232.03 474.6L234.46 478.92L229.59 478.92Z" fill="#30a460"/><path d="M239.63 487.81L242.06 492.13L237.2 492.13Z" fill="#30a460"/><path d="M247.24 501.81L249.67 506.13L244.81 506.13Z" fill="#30a460"/><path d="M254.85 517.31L257.28 521.63L252.42 521.63Z" fill="#30a460"/><path d="M262.46 532.31L264.89 536.63L260.03 536.63Z" fill="#30a460"/><path d="M270.07 546.31L272.5 550.63L267.64 550.63Z" fill="#30a460"/><path d="M277.68 557.31L280.11 561.63L275.25 561.63Z" fill="#30a460"/><path d="M285.29 564.31L287.72 568.63L282.86 568.63Z" fill="#30a460"/><path d="M292.9 564.91L295.33 569.23L290.47 569.23Z" fill="#30a460"/><path d="M300.51 562.31L302.94 566.63L298.08 566.63Z" fill="#30a460"/><path d="M308.12 552.31L310.55 556.63L305.69 556.63Z" fill="#30a460"/><path d="M315.73 540.31L318.16 544.63L313.3 544.63Z" fill="#30a460"/><path d="M323.34 525.71L325.77 530.03L320.91 530.03Z" fill="#30a460"/><path d="M330.95 511.31L333.38 515.63L328.52 515.63Z" fill="#30a460"/><path d="M338.56 496.11L340.99 500.43L336.13 500.43Z" fill="#30a460"/><path d="M346.17 482.6L348.6 486.92L343.74 486.92Z" fill="#30a460"/><path d="M353.77 469.7L356.2 474.02L351.34 474.02Z" fill="#30a460"/><path d="M361.38 458L363.81 462.32L358.95 462.32Z" fill="#30a460"/><path d="M368.99 446.8L371.42 451.12L366.56 451.12Z" fill="#30a460"/><path d="M376.6 435.3L379.03 439.62L374.17 439.62Z" fill="#30a460"/><path d="M384.21 424.1L386.64 428.42L381.78 428.42Z" fill="#30a460"/><path d="M391.82 412.4L394.25 416.72L389.39 416.72Z" fill="#30a460"/><path d="M399.43 397.8L401.86 402.12L397 402.12Z" fill="#30a460"/><path d="M407.04 396.74L409.47 401.06L404.61 401.06Z" fill="#30a460"/><path d="M414.65 397.8L417.08 402.12L412.22 402.12Z" fill="#30a460"/><path d="M422.26 398.59L424.69 402.91L419.83 402.91Z" fill="#30a460"/><path d="M429.87 398.32L432.3 402.64L427.44 402.64Z" fill="#30a460"/><path d="M437.48 397.53L439.91 401.85L435.05 401.85Z" fill="#30a460"/><path d="M445.09 396.74L447.52 401.06L442.66 401.06Z" fill="#30a460"/><path d="M452.7 396.48L455.13 400.8L450.27 400.8Z" fill="#30a460"/><path d="M460.31 396.74L462.74 401.06L457.88 401.06Z" fill="#30a460"/><path d="M467.92 397L470.35 401.32L465.49 401.32Z" fill="#30a460"/><path d="M475.52 397.27L477.95 401.59L473.09 401.59Z" fill="#30a460"/><path d="M483.13 397.8L485.56 402.12L480.7 402.12Z" fill="#30a460"/><path d="M490.74 399.11L493.17 403.43L488.31 403.43Z" fill="#30a460"/><path d="M498.35 400.43L500.78 404.75L495.92 404.75Z" fill="#30a460"/><path d="M503.43 400.43L505.86 404.75L501 404.75Z" fill="#30a460"/><path d="M508.5 399.11L510.93 403.43L506.07 403.43Z" fill="#30a460"/><path d="M513.57 397.53L516 401.85L511.14 401.85Z" fill="#30a460"/>
<path d="M49.4 630.2V625.2M64.62 630.2V627.4M79.84 630.2V625.2M95.06 630.2V627.4M110.28 630.2V625.2M125.49 630.2V627.4M140.71 630.2V625.2M155.93 630.2V627.4M171.15 630.2V625.2M186.37 630.2V627.4M201.59 630.2V625.2M216.81 630.2V627.4M232.03 630.2V625.2M247.24 630.2V627.4M262.46 630.2V625.2M277.68 630.2V627.4M292.9 630.2V625.2M308.12 630.2V627.4M323.34 630.2V625.2M338.56 630.2V627.4M353.77 630.2V625.2M368.99 630.2V627.4M384.21 630.2V625.2M399.43 630.2V627.4M414.65 630.2V625.2M429.87 630.2V627.4M445.09 630.2V625.2M460.31 630.2V627.4M475.52 630.2V625.2M490.74 630.2V627.4M505.96 630.2V625.2M521.18 630.2V627.4M536.4 630.2V625.2M49.4 630.2H54.4M49.4 617.44H52.2M49.4 604.68H54.4M49.4 591.92H52.2M49.4 579.15H54.4M49.4 566.39H52.2M49.4 553.63H54.4M49.4 540.87H52.2M49.4 528.11H54.4M49.4 515.35H52.2M49.4 502.59H54.4M49.4 489.83H52.2M49.4 477.06H54.4M49.4 464.3H52.2M49.4 451.54H54.4M49.4 438.78H52.2M49.4 426.02H54.4M49.4 413.26H52.2M49.4 400.5H54.4M49.4 387.73H52.2M49.4 374.97H54.4M49.4 362.21H52.2M49.4 349.45H54.4" stroke="#1e1e1e" stroke-width="1.2" fill="none"/>
<rect x="49.4" y="349.45" width="487" height="280.75" fill="none" stroke="#1e1e1e" stroke-width="1.5"/>
<text x="49.4" y="645.7" font-size="12" text-anchor="middle" fill="#111" stroke="#111" >&#8722;384</text>
<text x="79.84" y="645.7" font-size="12" text-anchor="middle" fill="#111" stroke="#111" >&#8722;336</text>
<text x="110.28" y="645.7" font-size="12" text-anchor="middle" fill="#111" stroke="#111" >&#8722;288</text>
<text x="140.71" y="645.7" font-size="12" text-anchor="middle" fill="#111" stroke="#111" >&#8722;240</text>
<text x="171.15" y="645.7" font-size="12" text-anchor="middle" fill="#111" stroke="#111" >&#8722;192</text>
<text x="201.59" y="645.7" font-size="12" text-anchor="middle" fill="#111" stroke="#111" >&#8722;144</text>
<text x="232.03" y="645.7" font-size="12" text-anchor="middle" fill="#111" stroke="#111" >&#8722;96</text>
<text x="262.46" y="645.7" font-size="12" text-anchor="middle" fill="#111" stroke="#111" >&#8722;48</text>
<text x="292.9" y="645.7" font-size="12" text-anchor="middle" fill="#111" stroke="#111" >0</text>
<text x="323.34" y="645.7" font-size="12" text-anchor="middle" fill="#111" stroke="#111" >48</text>
<text x="353.77" y="645.7" font-size="12" text-anchor="middle" fill="#111" stroke="#111" >96</text>
<text x="384.21" y="645.7" font-size="12" text-anchor="middle" fill="#111" stroke="#111" >144</text>
<text x="414.65" y="645.7" font-size="12" text-anchor="middle" fill="#111" stroke="#111" >192</text>
<text x="445.09" y="645.7" font-size="12" text-anchor="middle" fill="#111" stroke="#111" >240</text>
<text x="475.52" y="645.7" font-size="12" text-anchor="middle" fill="#111" stroke="#111" >288</text>
<text x="505.96" y="645.7" font-size="12" text-anchor="middle" fill="#111" stroke="#111" >336</text>
<text x="536.4" y="645.7" font-size="12" text-anchor="middle" fill="#111" stroke="#111" >384</text>
<text x="43.6" y="633.9" font-size="12" text-anchor="end" fill="#111" stroke="#111" >&#8722;1.8</text>
<text x="43.6" y="608.38" font-size="12" text-anchor="end" fill="#111" stroke="#111" >&#8722;1.6</text>
<text x="43.6" y="582.85" font-size="12" text-anchor="end" fill="#111" stroke="#111" >&#8722;1.4</text>
<text x="43.6" y="557.33" font-size="12" text-anchor="end" fill="#111" stroke="#111" >&#8722;1.2</text>
<text x="43.6" y="531.81" font-size="12" text-anchor="end" fill="#111" stroke="#111" >&#8722;1.0</text>
<text x="43.6" y="506.29" font-size="12" text-anchor="end" fill="#111" stroke="#111" >&#8722;0.8</text>
<text x="43.6" y="480.76" font-size="12" text-anchor="end" fill="#111" stroke="#111" >&#8722;0.6</text>
<text x="43.6" y="455.24" font-size="12" text-anchor="end" fill="#111" stroke="#111" >&#8722;0.4</text>
<text x="43.6" y="429.72" font-size="12" text-anchor="end" fill="#111" stroke="#111" >&#8722;0.2</text>
<text x="43.6" y="404.2" font-size="12" text-anchor="end" fill="#111" stroke="#111" >0.0</text>
<text x="43.6" y="378.67" font-size="12" text-anchor="end" fill="#111" stroke="#111" >0.2</text>
<text x="43.6" y="353.15" font-size="12" text-anchor="end" fill="#111" stroke="#111" >0.4</text>
<text x="296.8" y="662.7" font-size="12.4" text-anchor="middle" fill="#111" stroke="#111" >Coordinate (m)</text>
<text x="272.5" y="677.7" font-size="12.4" text-anchor="middle" fill="#111" stroke="#111">(<tspan font-weight="bold" font-size="13.6">c</tspan>)</text>
<text transform="translate(12.7 483.03) rotate(-90)" font-size="12.7" text-anchor="middle" fill="#111" stroke="#111">Vertical displacement (m)</text>
<rect x="108.3" y="455.4" width="97.2" height="112" fill="#fff"/>
<clipPath id="ccl"><rect x="108.3" y="455.4" width="97.2" height="112"/></clipPath>
<g clip-path="url(#ccl)">
<polyline points="108.3,477.8 124.5,487.88 140.7,501.99 156.9,504.01 181.2,493.26 205.5,477.8 229.8,476.68" fill="none" stroke="#474747" stroke-width="1.3" stroke-linejoin="round"/>
<polyline points="108.3,477.8 124.5,498.74 140.7,536.04 156.9,552.28 181.2,527.3 205.5,477.8 229.8,429.64" fill="none" stroke="#f5302f" stroke-width="1.3" stroke-linejoin="round"/>
<rect x="106.35" y="475.85" width="3.9" height="3.9" fill="#f5302f"/><rect x="122.55" y="496.79" width="3.9" height="3.9" fill="#f5302f"/><rect x="138.75" y="534.09" width="3.9" height="3.9" fill="#f5302f"/><rect x="154.95" y="550.33" width="3.9" height="3.9" fill="#f5302f"/><rect x="179.25" y="525.35" width="3.9" height="3.9" fill="#f5302f"/><rect x="203.55" y="475.85" width="3.9" height="3.9" fill="#f5302f"/><rect x="227.85" y="427.69" width="3.9" height="3.9" fill="#f5302f"/>
<polyline points="108.3,477.8 124.5,498.74 140.7,536.04 156.9,551.38 181.2,527.3 205.5,477.8 229.8,433" fill="none" stroke="#1f63e6" stroke-width="1.3" stroke-linejoin="round"/>
<circle cx="108.3" cy="477.8" r="2.1" fill="#1f63e6"/><circle cx="124.5" cy="498.74" r="2.1" fill="#1f63e6"/><circle cx="140.7" cy="536.04" r="2.1" fill="#1f63e6"/><circle cx="156.9" cy="551.38" r="2.1" fill="#1f63e6"/><circle cx="181.2" cy="527.3" r="2.1" fill="#1f63e6"/><circle cx="205.5" cy="477.8" r="2.1" fill="#1f63e6"/><circle cx="229.8" cy="433" r="2.1" fill="#1f63e6"/>
<polyline points="108.3,477.8 124.5,493.26 140.7,517 156.9,524.84 181.2,508.38 205.5,477.8 229.8,455.4" fill="none" stroke="#30a460" stroke-width="1.3" stroke-linejoin="round"/>
<path d="M108.3 475.1L110.73 479.42L105.87 479.42Z" fill="#30a460"/><path d="M124.5 490.56L126.93 494.88L122.07 494.88Z" fill="#30a460"/><path d="M140.7 514.3L143.13 518.62L138.27 518.62Z" fill="#30a460"/><path d="M156.9 522.14L159.33 526.46L154.47 526.46Z" fill="#30a460"/><path d="M181.2 505.68L183.63 510L178.77 510Z" fill="#30a460"/><path d="M205.5 475.1L207.93 479.42L203.07 479.42Z" fill="#30a460"/><path d="M229.8 452.7L232.23 457.02L227.37 457.02Z" fill="#30a460"/>
</g>
<path d="M108.3 567.4V563.4M120.45 567.4V564.6M132.6 567.4V563.4M144.75 567.4V564.6M156.9 567.4V563.4M169.05 567.4V564.6M181.2 567.4V563.4M193.35 567.4V564.6M205.5 567.4V563.4M108.3 567.4H112.3M108.3 556.2H111.1M108.3 545H112.3M108.3 533.8H111.1M108.3 522.6H112.3M108.3 511.4H111.1M108.3 500.2H112.3M108.3 489H111.1M108.3 477.8H112.3M108.3 466.6H111.1M108.3 455.4H112.3" stroke="#1e1e1e" stroke-width="1.1" fill="none"/>
<rect x="108.3" y="455.4" width="97.2" height="112" fill="none" stroke="#1e1e1e" stroke-width="1.5"/>
<text x="108.3" y="579.2" font-size="9.5" text-anchor="middle" fill="#111" stroke="#111" >&#8722;348</text>
<text x="132.6" y="579.2" font-size="9.5" text-anchor="middle" fill="#111" stroke="#111" >&#8722;336</text>
<text x="156.9" y="579.2" font-size="9.5" text-anchor="middle" fill="#111" stroke="#111" >&#8722;324</text>
<text x="181.2" y="579.2" font-size="9.5" text-anchor="middle" fill="#111" stroke="#111" >&#8722;312</text>
<text x="205.5" y="579.2" font-size="9.5" text-anchor="middle" fill="#111" stroke="#111" >&#8722;300</text>
<text x="104.5" y="571.32" font-size="9.5" text-anchor="end" fill="#111" stroke="#111" >&#8722;0.08</text>
<text x="104.5" y="548.92" font-size="9.5" text-anchor="end" fill="#111" stroke="#111" >&#8722;0.06</text>
<text x="104.5" y="526.52" font-size="9.5" text-anchor="end" fill="#111" stroke="#111" >&#8722;0.04</text>
<text x="104.5" y="504.12" font-size="9.5" text-anchor="end" fill="#111" stroke="#111" >&#8722;0.02</text>
<text x="104.5" y="481.72" font-size="9.5" text-anchor="end" fill="#111" stroke="#111" >0.00</text>
<text x="104.5" y="459.32" font-size="9.5" text-anchor="end" fill="#111" stroke="#111" >0.02</text>
<text x="157.1" y="591.9" font-size="9.8" text-anchor="middle" fill="#111" stroke="#111" >Coordinate (m)</text>
<text transform="translate(79 511) rotate(-90)" font-size="9.8" text-anchor="middle" fill="#111" stroke="#111">Vertical displacement (m)</text>
<rect x="253.8" y="355.8" width="85.3" height="110.2" fill="#fff"/>
<clipPath id="ccr"><rect x="253.8" y="355.8" width="85.3" height="110.2"/></clipPath>
<g clip-path="url(#ccr)">
<polyline points="225.37,385.83 253.8,382.25 282.23,383.35 310.67,414.66 339.1,438.84 367.53,465.18" fill="none" stroke="#474747" stroke-width="1.3" stroke-linejoin="round"/>
<polyline points="225.37,376.19 253.8,377.56 282.23,383.35 310.67,419.19 339.1,449.2 367.53,476.41" fill="none" stroke="#f5302f" stroke-width="1.3" stroke-linejoin="round"/>
<rect x="223.42" y="374.24" width="3.9" height="3.9" fill="#f5302f"/><rect x="251.85" y="375.61" width="3.9" height="3.9" fill="#f5302f"/><rect x="280.28" y="381.4" width="3.9" height="3.9" fill="#f5302f"/><rect x="308.72" y="417.24" width="3.9" height="3.9" fill="#f5302f"/><rect x="337.15" y="447.25" width="3.9" height="3.9" fill="#f5302f"/><rect x="365.58" y="474.46" width="3.9" height="3.9" fill="#f5302f"/>
<polyline points="225.37,376.19 253.8,377.56 282.23,383.35 310.67,419.19 339.1,449.2 367.53,476.41" fill="none" stroke="#1f63e6" stroke-width="1.3" stroke-linejoin="round"/>
<circle cx="225.37" cy="376.19" r="2.1" fill="#1f63e6"/><circle cx="253.8" cy="377.56" r="2.1" fill="#1f63e6"/><circle cx="282.23" cy="383.35" r="2.1" fill="#1f63e6"/><circle cx="310.67" cy="419.19" r="2.1" fill="#1f63e6"/><circle cx="339.1" cy="449.2" r="2.1" fill="#1f63e6"/><circle cx="367.53" cy="476.41" r="2.1" fill="#1f63e6"/>
<polyline points="225.37,381.42 253.8,380.87 282.23,383.35 310.67,415.95 339.1,444.67 367.53,470.36" fill="none" stroke="#30a460" stroke-width="1.3" stroke-linejoin="round"/>
<path d="M225.37 378.72L227.8 383.04L222.94 383.04Z" fill="#30a460"/><path d="M253.8 378.17L256.23 382.49L251.37 382.49Z" fill="#30a460"/><path d="M282.23 380.65L284.66 384.97L279.8 384.97Z" fill="#30a460"/><path d="M310.67 413.25L313.1 417.57L308.24 417.57Z" fill="#30a460"/><path d="M339.1 441.97L341.53 446.29L336.67 446.29Z" fill="#30a460"/><path d="M367.53 467.66L369.96 471.98L365.1 471.98Z" fill="#30a460"/>
</g>
<path d="M253.8 466V462M268.02 466V463.2M282.23 466V462M296.45 466V463.2M310.67 466V462M324.88 466V463.2M339.1 466V462M253.8 466H257.8M253.8 452.23H256.6M253.8 438.45H257.8M253.8 424.68H256.6M253.8 410.9H257.8M253.8 397.12H256.6M253.8 383.35H257.8M253.8 369.58H256.6M253.8 355.8H257.8" stroke="#1e1e1e" stroke-width="1.1" fill="none"/>
<rect x="253.8" y="355.8" width="85.3" height="110.2" fill="none" stroke="#1e1e1e" stroke-width="1.5"/>
<text x="253.8" y="477.2" font-size="8.6" text-anchor="middle" fill="#111" stroke="#111" >&#8722;180</text>
<text x="282.23" y="477.2" font-size="8.6" text-anchor="middle" fill="#111" stroke="#111" >&#8722;168</text>
<text x="310.67" y="477.2" font-size="8.6" text-anchor="middle" fill="#111" stroke="#111" >&#8722;156</text>
<text x="339.1" y="477.2" font-size="8.6" text-anchor="middle" fill="#111" stroke="#111" >&#8722;144</text>
<text x="250" y="469.31" font-size="8.6" text-anchor="end" fill="#111" stroke="#111" >&#8722;0.3</text>
<text x="250" y="441.76" font-size="8.6" text-anchor="end" fill="#111" stroke="#111" >&#8722;0.2</text>
<text x="250" y="414.21" font-size="8.6" text-anchor="end" fill="#111" stroke="#111" >&#8722;0.1</text>
<text x="250" y="386.66" font-size="8.6" text-anchor="end" fill="#111" stroke="#111" >0.0</text>
<text x="250" y="359.11" font-size="8.6" text-anchor="end" fill="#111" stroke="#111" >0.1</text>
<text x="296.5" y="488.9" font-size="8.9" text-anchor="middle" fill="#111" stroke="#111" >Coordinate (m)</text>
<text transform="translate(229.8 406.8) rotate(-90)" font-size="8.9" text-anchor="middle" fill="#111" stroke="#111">Vertical displacement (m)</text>
<line x1="87.8" y1="414.6" x2="122.12" y2="450.69" stroke="#ff0000" stroke-width="1.4"/>
<path d="M126.6 455.4L119.48 451.83L123.39 448.1Z" fill="#ff0000"/>
<line x1="193.9" y1="385.3" x2="247.35" y2="366.91" stroke="#ff0000" stroke-width="1.4"/>
<path d="M253.5 364.8L247.29 369.79L245.53 364.69Z" fill="#ff0000"/>
<line x1="186.37" y1="350.45" x2="186.37" y2="630.2" stroke="#7f00ff" stroke-width="1.5" stroke-dasharray="5.8 4.46"/>
<line x1="399.43" y1="350.45" x2="399.43" y2="630.2" stroke="#ff00ff" stroke-width="1.5" stroke-dasharray="5.8 4.46"/>
<text x="186.6" y="614.3" font-size="12.4" text-anchor="middle" fill="#8a1cff" stroke="#8a1cff" >South tower</text>
<text x="399.4" y="614.3" font-size="12.4" text-anchor="middle" fill="#ff00ff" stroke="#ff00ff" >North tower</text>
<rect x="412.4" y="507.6" width="115.6" height="63" fill="#fff" stroke="#6a6a6a" stroke-width="1"/>
<line x1="413.6" y1="516.2" x2="442" y2="516.2" stroke="#333333" stroke-width="1.2"/>
<text x="445.8" y="520.1" font-size="12.4" text-anchor="start" fill="#111" stroke="#111" >Non-destructive</text>
<line x1="413.6" y1="531.6" x2="442" y2="531.6" stroke="#f5302f" stroke-width="1.3"/>
<rect x="426.05" y="529.75" width="3.7" height="3.7" fill="#f5302f"/>
<text x="445.8" y="535.5" font-size="12.4" text-anchor="start" fill="#111" stroke="#111" >S13+N13</text>
<line x1="413.6" y1="547" x2="442" y2="547" stroke="#1f63e6" stroke-width="1.3"/>
<circle cx="427.9" cy="547" r="1.99" fill="#1f63e6"/>
<text x="445.8" y="550.9" font-size="12.4" text-anchor="start" fill="#111" stroke="#111" >SU13+SD13</text>
<line x1="413.6" y1="562.4" x2="442" y2="562.4" stroke="#30a460" stroke-width="1.3"/>
<path d="M427.9 559.84L430.21 563.94L425.59 563.94Z" fill="#30a460"/>
<text x="445.8" y="566.3" font-size="12.4" text-anchor="start" fill="#111" stroke="#111" >SU13</text>
</svg>
</body></html>
